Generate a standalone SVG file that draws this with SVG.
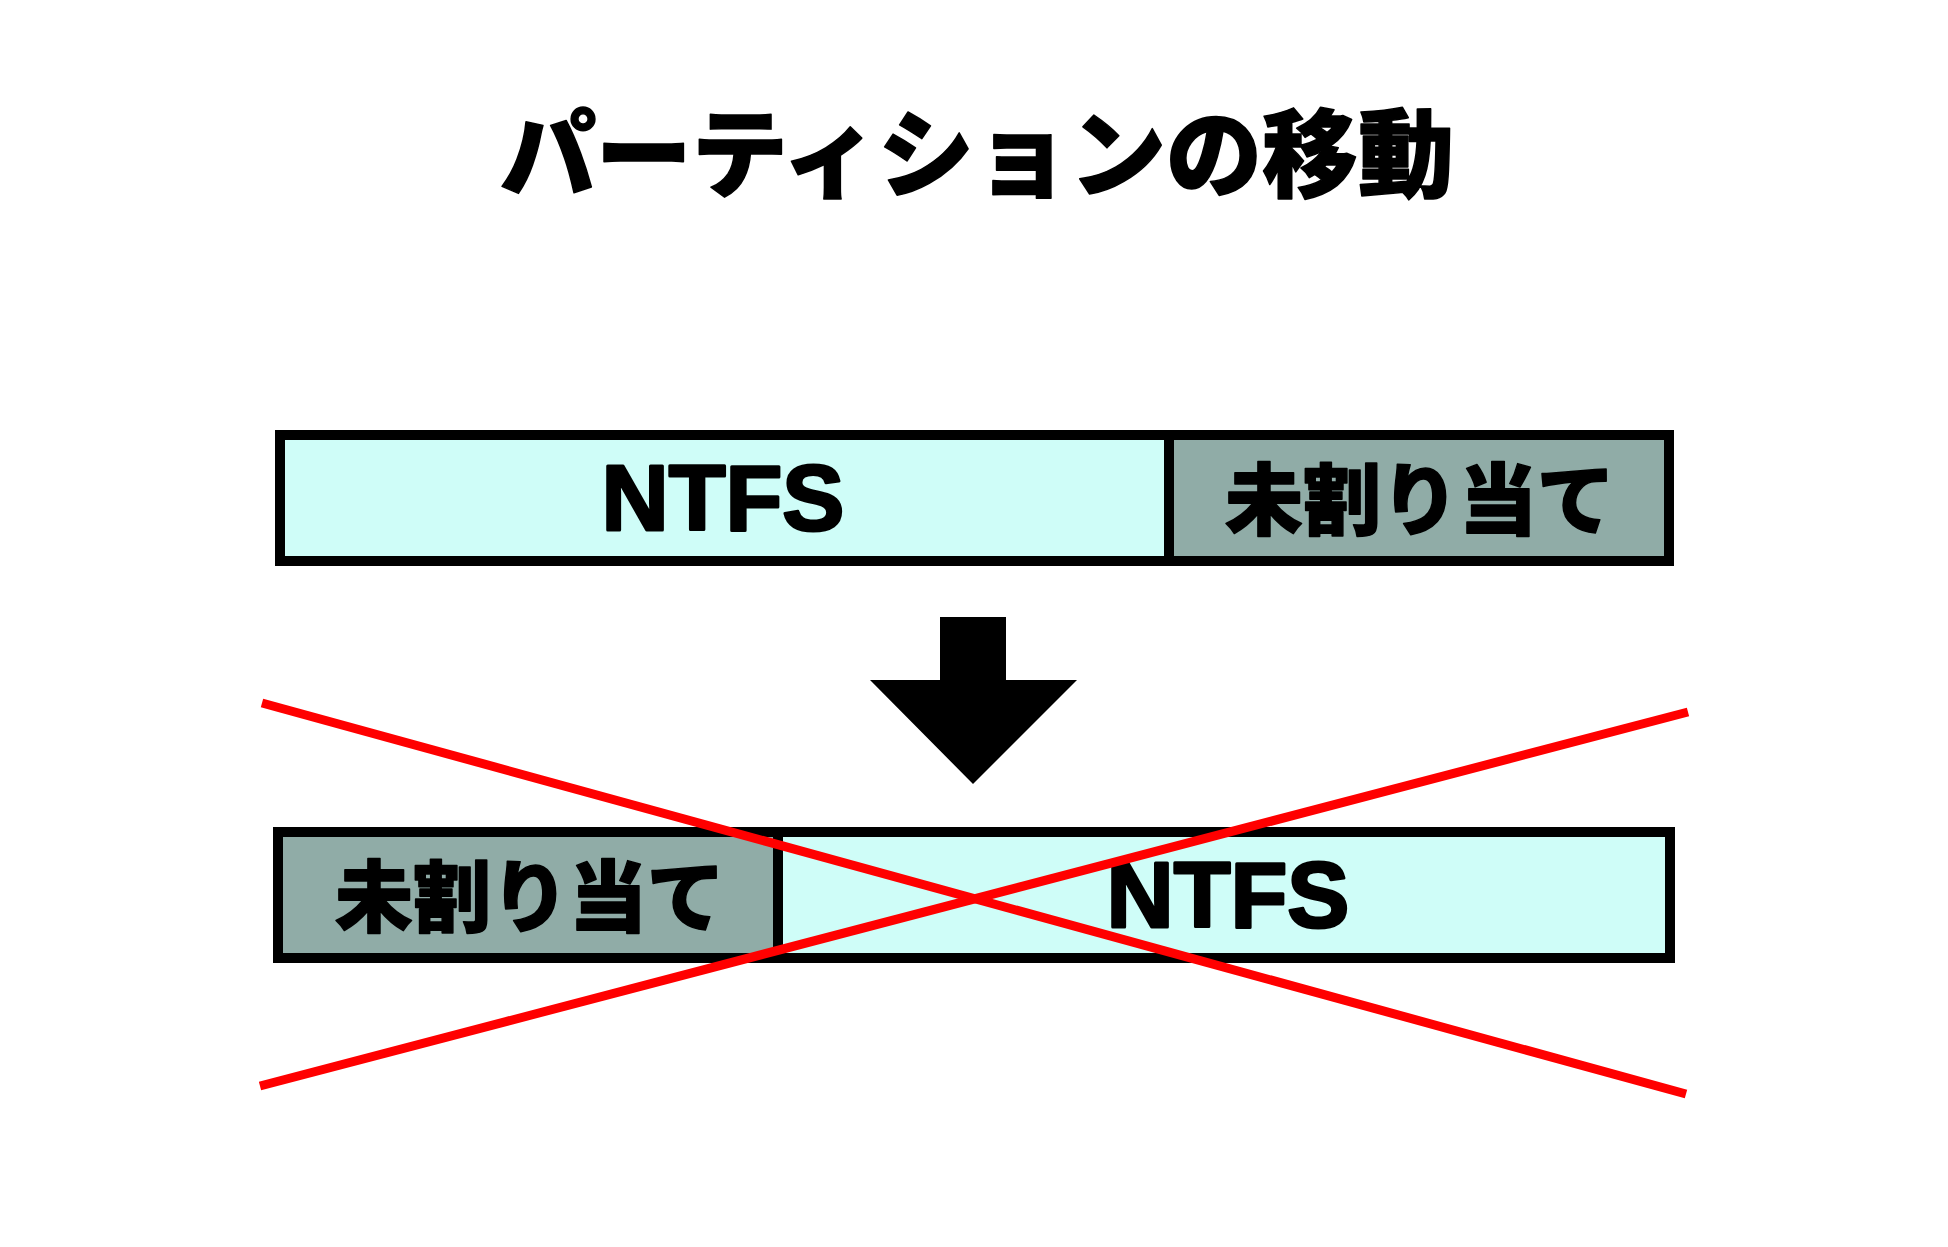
<svg xmlns="http://www.w3.org/2000/svg" width="1948" height="1247" viewBox="0 0 1948 1247">
<style>
.box{stroke:#000;stroke-width:10}
.ntfs{fill:#CFFDF8}
.free{fill:#90ACA7}
.lat{font-family:"Liberation Sans",Arial,sans-serif;font-weight:700;font-size:93px;fill:#000;stroke:#000;stroke-width:3;stroke-linejoin:round;text-anchor:middle}
.jp{font-family:"Noto Sans CJK JP","Noto Sans CJK SC",sans-serif;font-weight:900;fill:#000;stroke:#000;stroke-width:1.5;stroke-linejoin:round;text-anchor:middle}
.x{stroke:#FF0000;stroke-width:9;fill:none}
</style>
<rect width="1948" height="1247" fill="#fff"/>
<g id="title"><text class="jp" x="977" y="189" font-size="96">パーティションの移動</text></g>
<g id="before">
  <rect class="ntfs" x="280" y="435" width="889" height="126"/>
  <rect class="free" x="1169" y="435" width="500" height="126"/>
  <rect class="box" x="280" y="435" width="1389" height="126" fill="none"/>
  <line class="box" x1="1169" y1="435" x2="1169" y2="561"/>
  <text class="lat" x="723" y="530">NTFS</text>
  <text class="jp" x="1420" y="529" font-size="78">未割り当て</text>
</g>
<g id="arrow"><polygon points="940,617 1006,617 1006,680 1077,680 973,784 870,680 940,680" fill="#000"/></g>
<g id="after">
  <rect class="free" x="278" y="832" width="500" height="126"/>
  <rect class="ntfs" x="778" y="832" width="892" height="126"/>
  <rect class="box" x="278" y="832" width="1392" height="126" fill="none"/>
  <line class="box" x1="778" y1="832" x2="778" y2="958"/>
  <text class="jp" x="530" y="926" font-size="78">未割り当て</text>
  <text class="lat" x="1228" y="927">NTFS</text>
</g>
<g id="connectors">
  <line class="x" x1="262" y1="703" x2="1686" y2="1094"/>
  <line class="x" x1="260" y1="1086" x2="1688" y2="712"/>
</g>
</svg>
